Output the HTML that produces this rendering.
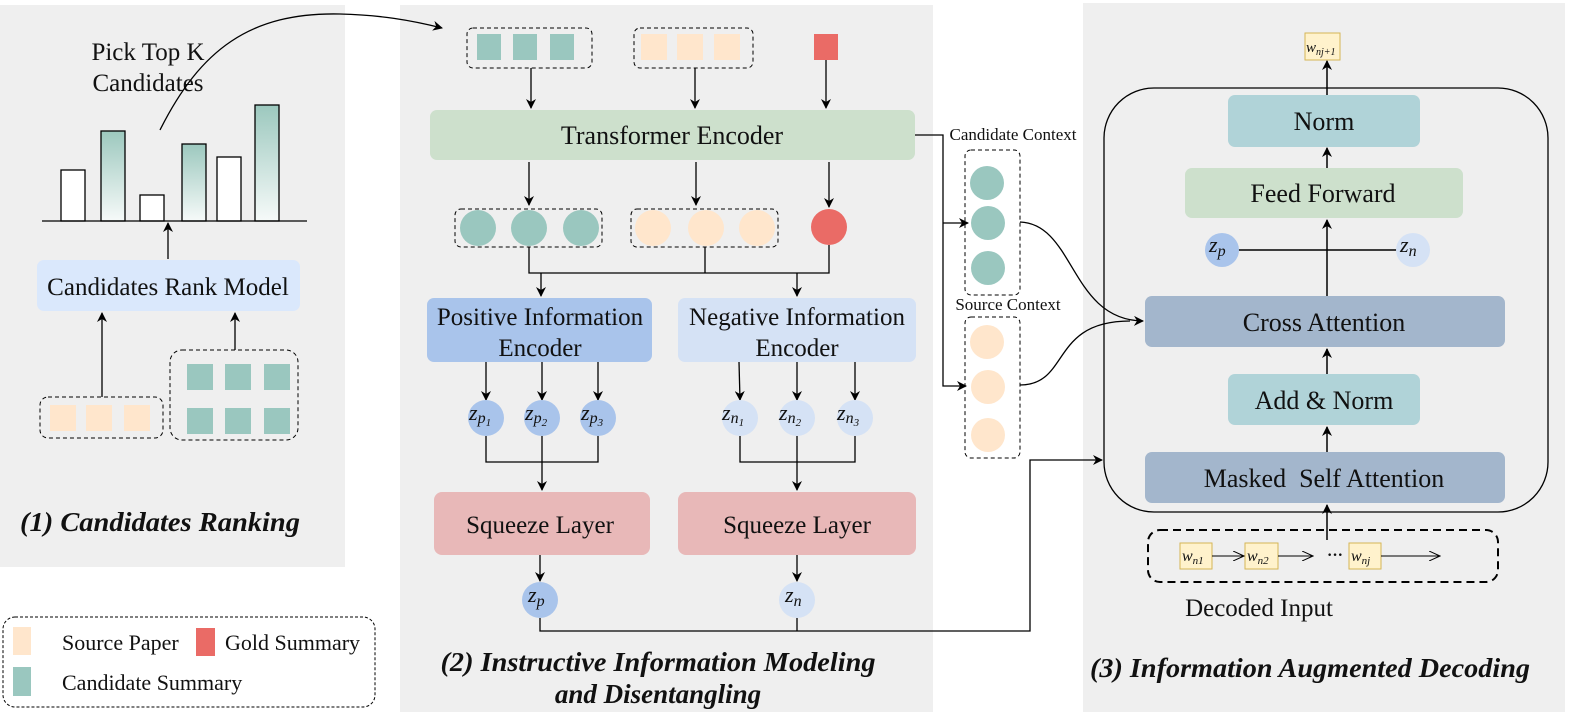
<!DOCTYPE html>
<html><head><meta charset="utf-8"><style>
html,body{margin:0;padding:0;background:#fff}
svg{display:block}
text{font-family:"Liberation Serif",serif;fill:#111}
.z{font-style:italic}
</style></head><body>
<svg width="1575" height="714" viewBox="0 0 1575 714" xmlns="http://www.w3.org/2000/svg">
<defs>
<marker id="a" markerWidth="10" markerHeight="10" refX="9" refY="5" orient="auto" markerUnits="userSpaceOnUse"><path d="M0,0 L10,5 L0,10 L3,5 z" fill="#000"/></marker>
<marker id="o" markerWidth="12" markerHeight="10" refX="11" refY="5" orient="auto" markerUnits="userSpaceOnUse"><path d="M0,0 L11,5 L0,10" fill="none" stroke="#000"/></marker>
<linearGradient id="g" x1="0" y1="0" x2="0" y2="1"><stop offset="0" stop-color="#9cc8be"/><stop offset="1" stop-color="#f6faf9"/></linearGradient>
</defs>
<!-- panels -->
<rect x="0" y="5" width="345" height="562" fill="#efefef"/>
<rect x="400" y="5" width="533" height="707" fill="#efefef"/>
<rect x="1083" y="3" width="482" height="709" fill="#efefef"/>

<!-- Panel 1 -->
<text x="148" y="60" font-size="25" text-anchor="middle">Pick Top K</text>
<text x="148" y="91" font-size="25" text-anchor="middle">Candidates</text>
<path d="M160,130 C200,50 250,12 340,14 C380,15 410,20 442,28" fill="none" stroke="#000" stroke-width="1.3" marker-end="url(#a)"/>
<g stroke="#000" stroke-width="1.3">
<rect x="61" y="170" width="24" height="51" fill="#fff"/>
<rect x="101" y="131" width="24" height="90" fill="url(#g)"/>
<rect x="140" y="195" width="24" height="26" fill="#fff"/>
<rect x="182" y="144" width="24" height="77" fill="url(#g)"/>
<rect x="217" y="157" width="24" height="64" fill="#fff"/>
<rect x="255" y="105" width="24" height="116" fill="url(#g)"/>
<line x1="42" y1="221" x2="307" y2="221"/>
<line x1="168" y1="259" x2="168" y2="223" marker-end="url(#a)"/>
<line x1="102" y1="397" x2="102" y2="313" marker-end="url(#a)"/>
<line x1="235" y1="350" x2="235" y2="313" marker-end="url(#a)"/>
</g>
<rect x="37" y="260" width="263" height="51" rx="7" fill="#dae8fc"/>
<text x="168" y="295" font-size="25" text-anchor="middle">Candidates Rank Model</text>
<rect x="40" y="397" width="123" height="41" rx="8" fill="none" stroke="#000" stroke-dasharray="4,3"/>
<g fill="#ffe6cc"><rect x="50" y="405" width="26" height="26"/><rect x="86" y="405" width="26" height="26"/><rect x="124" y="405" width="26" height="26"/></g>
<rect x="170" y="350" width="128" height="90" rx="12" fill="none" stroke="#000" stroke-dasharray="4,3"/>
<g fill="#9ac7bf"><rect x="187" y="364" width="26" height="26"/><rect x="225" y="364" width="26" height="26"/><rect x="264" y="364" width="26" height="26"/>
<rect x="187" y="408" width="26" height="26"/><rect x="225" y="408" width="26" height="26"/><rect x="264" y="408" width="26" height="26"/></g>
<text x="160" y="531" font-size="27" font-weight="bold" font-style="italic" text-anchor="middle" textLength="280" lengthAdjust="spacingAndGlyphs">(1) Candidates Ranking</text>

<!-- Legend -->
<rect x="3" y="617" width="372" height="90" rx="12" fill="none" stroke="#000" stroke-dasharray="3,2"/>
<rect x="13" y="627" width="18" height="28" fill="#ffe6cc"/>
<text x="62" y="650" font-size="22">Source Paper</text>
<rect x="196" y="628" width="19" height="28" fill="#ea6b66"/>
<text x="225" y="650" font-size="22">Gold Summary</text>
<rect x="13" y="667" width="18" height="29" fill="#9ac7bf"/>
<text x="62" y="690" font-size="22">Candidate Summary</text>

<!-- Panel 2 -->
<rect x="467" y="28" width="125" height="40" rx="6" fill="none" stroke="#000" stroke-dasharray="4,3"/>
<g fill="#9ac7bf"><rect x="477" y="34" width="24" height="26"/><rect x="513" y="34" width="24" height="26"/><rect x="550" y="34" width="24" height="26"/></g>
<rect x="634" y="28" width="119" height="40" rx="6" fill="none" stroke="#000" stroke-dasharray="4,3"/>
<g fill="#ffe6cc"><rect x="641" y="34" width="26" height="26"/><rect x="677" y="34" width="26" height="26"/><rect x="714" y="34" width="26" height="26"/></g>
<rect x="814" y="34" width="24" height="26" fill="#ea6b66"/>
<g stroke="#000" stroke-width="1.3" fill="none">
<line x1="531" y1="68" x2="531" y2="108" marker-end="url(#a)"/>
<line x1="695" y1="68" x2="695" y2="108" marker-end="url(#a)"/>
<line x1="826" y1="60" x2="826" y2="108" marker-end="url(#a)"/>
</g>
<rect x="430" y="110" width="485" height="50" rx="7" fill="#cde0cc"/>
<text x="672" y="144" font-size="26" text-anchor="middle">Transformer Encoder</text>
<g stroke="#000" stroke-width="1.3" fill="none">
<line x1="529" y1="162" x2="529" y2="205" marker-end="url(#a)"/>
<line x1="696" y1="162" x2="696" y2="205" marker-end="url(#a)"/>
<line x1="829" y1="162" x2="829" y2="207" marker-end="url(#a)"/>
</g>
<rect x="455" y="209" width="147" height="38" rx="6" fill="none" stroke="#000" stroke-dasharray="4,3"/>
<g fill="#9ac7bf"><circle cx="478" cy="228" r="18"/><circle cx="529" cy="228" r="18"/><circle cx="581" cy="228" r="18"/></g>
<rect x="631" y="209" width="147" height="38" rx="6" fill="none" stroke="#000" stroke-dasharray="4,3"/>
<g fill="#ffe6cc"><circle cx="653" cy="228" r="18"/><circle cx="706" cy="228" r="18"/><circle cx="757" cy="228" r="18"/></g>
<circle cx="829" cy="227" r="18" fill="#ea6b66"/>
<g stroke="#000" stroke-width="1.3" fill="none">
<polyline points="529,247 529,273 829,273 829,245"/>
<line x1="705" y1="247" x2="705" y2="273"/>
<line x1="541" y1="273" x2="541" y2="296" marker-end="url(#a)"/>
<line x1="797" y1="273" x2="797" y2="296" marker-end="url(#a)"/>
</g>
<rect x="427" y="298" width="225" height="64" rx="7" fill="#a9c4eb"/>
<text x="540" y="325" font-size="25" text-anchor="middle">Positive Information</text>
<text x="540" y="356" font-size="25" text-anchor="middle">Encoder</text>
<rect x="678" y="298" width="238" height="64" rx="7" fill="#d5e2f5"/>
<text x="797" y="325" font-size="25" text-anchor="middle">Negative Information</text>
<text x="797" y="356" font-size="25" text-anchor="middle">Encoder</text>
<g stroke="#000" stroke-width="1.3" fill="none">
<line x1="486" y1="362" x2="486" y2="400" marker-end="url(#a)"/>
<line x1="542" y1="362" x2="542" y2="400" marker-end="url(#a)"/>
<line x1="598" y1="362" x2="598" y2="400" marker-end="url(#a)"/>
<line x1="739" y1="362" x2="740" y2="400" marker-end="url(#a)"/>
<line x1="797" y1="362" x2="797" y2="400" marker-end="url(#a)"/>
<line x1="855" y1="362" x2="855" y2="400" marker-end="url(#a)"/>
</g>
<g fill="#a9c4eb"><circle cx="486" cy="418" r="18"/><circle cx="542" cy="418" r="18"/><circle cx="598" cy="418" r="18"/></g>
<g fill="#d5e2f5"><circle cx="740" cy="418" r="18"/><circle cx="797" cy="418" r="18"/><circle cx="855" cy="418" r="18"/></g>
<g font-size="22">
<text x="469" y="420" class="z">z<tspan font-size="16" dy="3">p</tspan><tspan font-size="11" dy="3">1</tspan></text>
<text x="525" y="420" class="z">z<tspan font-size="16" dy="3">p</tspan><tspan font-size="11" dy="3">2</tspan></text>
<text x="581" y="420" class="z">z<tspan font-size="16" dy="3">p</tspan><tspan font-size="11" dy="3">3</tspan></text>
<text x="722" y="420" class="z">z<tspan font-size="16" dy="3">n</tspan><tspan font-size="11" dy="3">1</tspan></text>
<text x="779" y="420" class="z">z<tspan font-size="16" dy="3">n</tspan><tspan font-size="11" dy="3">2</tspan></text>
<text x="837" y="420" class="z">z<tspan font-size="16" dy="3">n</tspan><tspan font-size="11" dy="3">3</tspan></text>
</g>
<g stroke="#000" stroke-width="1.3" fill="none">
<polyline points="486,436 486,462 598,462 598,436"/>
<line x1="542" y1="436" x2="542" y2="490" marker-end="url(#a)"/>
<polyline points="740,436 740,462 855,462 855,436"/>
<line x1="797" y1="436" x2="797" y2="490" marker-end="url(#a)"/>
</g>
<rect x="434" y="492" width="216" height="63" rx="8" fill="#e8b8b8"/>
<text x="540" y="533" font-size="25" text-anchor="middle">Squeeze Layer</text>
<rect x="678" y="492" width="238" height="63" rx="8" fill="#e8b8b8"/>
<text x="797" y="533" font-size="25" text-anchor="middle">Squeeze Layer</text>
<g stroke="#000" stroke-width="1.3" fill="none">
<line x1="540" y1="555" x2="540" y2="581" marker-end="url(#a)"/>
<line x1="797" y1="555" x2="797" y2="581" marker-end="url(#a)"/>
</g>
<circle cx="540" cy="600" r="18" fill="#a9c4eb"/>
<circle cx="797" cy="600" r="18" fill="#d5e2f5"/>
<text x="528" y="602" font-size="22" class="z">z<tspan font-size="16" dy="4">p</tspan></text>
<text x="785" y="602" font-size="22" class="z">z<tspan font-size="16" dy="4">n</tspan></text>
<g stroke="#000" stroke-width="1.3" fill="none">
<polyline points="540,618 540,631 1030,631 1030,460 1102,460" marker-end="url(#a)"/>
<line x1="797" y1="618" x2="797" y2="631"/>
</g>
<text x="658" y="671" font-size="27" font-weight="bold" font-style="italic" text-anchor="middle" textLength="435" lengthAdjust="spacingAndGlyphs">(2) Instructive Information Modeling</text>
<text x="658" y="703" font-size="27" font-weight="bold" font-style="italic" text-anchor="middle">and Disentangling</text>

<!-- Context column -->
<text x="1013" y="140" font-size="17" text-anchor="middle">Candidate Context</text>
<rect x="965" y="150" width="55" height="145" rx="6" fill="none" stroke="#000" stroke-dasharray="4,3"/>
<g fill="#9ac7bf"><circle cx="987" cy="183" r="17"/><circle cx="988" cy="223" r="17"/><circle cx="988" cy="268" r="17"/></g>
<text x="1008" y="310" font-size="17" text-anchor="middle">Source Context</text>
<rect x="965" y="317" width="55" height="141" rx="6" fill="none" stroke="#000" stroke-dasharray="4,3"/>
<g fill="#ffe6cc"><circle cx="987" cy="342" r="17"/><circle cx="988" cy="387" r="17"/><circle cx="988" cy="435" r="17"/></g>
<g stroke="#000" stroke-width="1.3" fill="none">
<polyline points="915,135 943,135 943,386 966,386" marker-end="url(#a)"/>
<line x1="943" y1="223" x2="968" y2="223" marker-end="url(#a)"/>
<path d="M1020,222 C1075,224 1070,320 1143,321" marker-end="url(#a)"/>
<path d="M1020,385 C1070,385 1050,321 1130,321"/>
</g>

<!-- Panel 3 -->
<rect x="1104" y="88" width="444" height="424" rx="50" fill="none" stroke="#000" stroke-width="1.3"/>
<rect x="1305" y="33" width="35" height="27" fill="#fff2cc" stroke="#d6b656"/>
<text x="1306" y="52" font-size="15" class="z">w<tspan font-size="10" dy="3">nj+1</tspan></text>
<g stroke="#000" stroke-width="1.5" fill="none">
<line x1="1327" y1="95" x2="1327" y2="61" marker-end="url(#a)"/>
<line x1="1327" y1="168" x2="1327" y2="148" marker-end="url(#a)"/>
<line x1="1327" y1="296" x2="1327" y2="220" marker-end="url(#a)"/>
<line x1="1238" y1="250" x2="1397" y2="250"/>
<line x1="1327" y1="374" x2="1327" y2="349" marker-end="url(#a)"/>
<line x1="1327" y1="452" x2="1327" y2="427" marker-end="url(#a)"/>
<line x1="1327" y1="540" x2="1327" y2="505" marker-end="url(#a)"/>
</g>
<rect x="1228" y="95" width="192" height="52" rx="7" fill="#b0d3d8"/>
<text x="1324" y="130" font-size="26" text-anchor="middle">Norm</text>
<rect x="1185" y="168" width="278" height="50" rx="7" fill="#cde0cc"/>
<text x="1323" y="202" font-size="26" text-anchor="middle">Feed Forward</text>
<circle cx="1222" cy="250" r="17" fill="#a9c4eb"/>
<circle cx="1413" cy="250" r="17" fill="#d5e2f5"/>
<text x="1209" y="252" font-size="22" class="z">z<tspan font-size="16" dy="4">p</tspan></text>
<text x="1400" y="252" font-size="22" class="z">z<tspan font-size="16" dy="4">n</tspan></text>
<rect x="1145" y="296" width="360" height="51" rx="7" fill="#a3b6cc"/>
<text x="1324" y="331" font-size="26" text-anchor="middle">Cross Attention</text>
<rect x="1228" y="374" width="192" height="51" rx="7" fill="#b0d3d8"/>
<text x="1324" y="409" font-size="26" text-anchor="middle">Add &amp; Norm</text>
<rect x="1145" y="452" width="360" height="51" rx="7" fill="#a3b6cc"/>
<text x="1324" y="487" font-size="26" text-anchor="middle" xml:space="preserve">Masked  Self Attention</text>
<rect x="1148" y="530" width="350" height="52" rx="12" fill="none" stroke="#000" stroke-width="2" stroke-dasharray="8,5"/>
<g fill="#fff2cc" stroke="#d6b656">
<rect x="1180" y="543" width="32" height="26"/><rect x="1245" y="543" width="33" height="26"/><rect x="1349" y="543" width="32" height="26"/>
</g>
<g font-size="16">
<text x="1182" y="561" class="z">w<tspan font-size="11" dy="3">n1</tspan></text>
<text x="1247" y="561" class="z">w<tspan font-size="11" dy="3">n2</tspan></text>
<text x="1351" y="561" class="z">w<tspan font-size="11" dy="3">nj</tspan></text>
</g>
<g stroke="#000" stroke-width="1" fill="none">
<line x1="1212" y1="556" x2="1244" y2="556" marker-end="url(#o)"/>
<line x1="1278" y1="556" x2="1313" y2="556" marker-end="url(#o)"/>
<line x1="1381" y1="556" x2="1440" y2="556" marker-end="url(#o)"/>
</g>
<text x="1327" y="560" font-size="16" font-weight="bold">···</text>
<text x="1259" y="616" font-size="25" text-anchor="middle">Decoded Input</text>
<text x="1310" y="677" font-size="27" font-weight="bold" font-style="italic" text-anchor="middle" textLength="440" lengthAdjust="spacingAndGlyphs">(3) Information Augmented Decoding</text>
</svg>
</body></html>
